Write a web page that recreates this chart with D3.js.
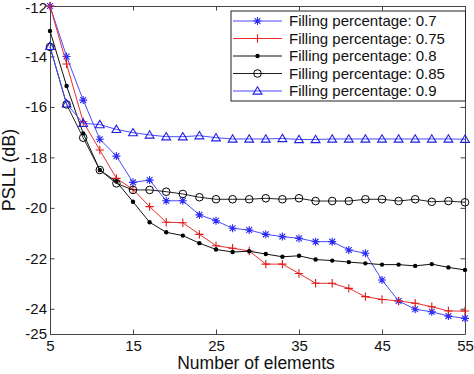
<!DOCTYPE html>
<html>
<head>
<meta charset="utf-8">
<script src="https://cdn.jsdelivr.net/npm/d3@7"></script>
<style>
  html, body { margin: 0; padding: 0; background: #fff; }
  svg { display: block; font-family: "Liberation Sans", Arial, sans-serif; }
</style>
</head>
<body>
<svg id="chart" width="474" height="374"></svg>
<script>
// ---- data ----
const elements = [5,7,9,11,13,15,17,19,21,23,25,27,29,31,33,35,37,39,41,43,45,47,49,51,53,55];
const fp070 = [-12.0,-14.0,-15.73,-17.28,-17.95,-18.99,-18.90,-19.72,-19.72,-20.28,-20.51,-20.81,-20.88,-21.05,-21.14,-21.21,-21.34,-21.34,-21.67,-21.80,-22.86,-23.69,-24.02,-24.12,-24.29,-24.38];
const fp075 = [-12.0,-14.3,-16.59,-17.71,-18.83,-19.27,-19.95,-20.57,-20.59,-21.05,-21.5,-21.6,-21.71,-22.23,-22.23,-22.6,-22.99,-22.99,-23.19,-23.52,-23.63,-23.69,-23.78,-23.92,-24.09,-24.09];
const fp080 = [-12.99,-15.17,-17.05,-18.5,-18.96,-19.76,-20.57,-20.97,-21.1,-21.4,-21.65,-21.75,-21.72,-21.83,-21.94,-21.90,-22.05,-22.09,-22.15,-22.2,-22.25,-22.25,-22.3,-22.23,-22.36,-22.46];
const fp085 = [-13.62,-15.9,-17.22,-18.5,-19.03,-19.29,-19.29,-19.36,-19.45,-19.58,-19.66,-19.66,-19.66,-19.62,-19.66,-19.62,-19.73,-19.73,-19.73,-19.66,-19.66,-19.73,-19.66,-19.76,-19.73,-19.78];
const fp090 = [-13.6,-15.88,-16.65,-16.7,-16.89,-17.02,-17.11,-17.18,-17.18,-17.14,-17.22,-17.27,-17.27,-17.27,-17.25,-17.29,-17.29,-17.27,-17.27,-17.27,-17.27,-17.27,-17.27,-17.27,-17.27,-17.28];
const seriesNames = ["Filling percentage: 0.7","Filling percentage: 0.75","Filling percentage: 0.8","Filling percentage: 0.85","Filling percentage: 0.9"];
const xTicks = [5,15,25,35,45,55];
const yTicks = [-12,-14,-16,-18,-20,-22,-24,-25];
const xLabel = "Number of elements";
const yLabel = "PSLL (dB)";

// ---- styles ----
const styles = [
  {values: fp070, color: "#2b2bf5", line: "#4a4aff", marker: "asterisk"},
  {values: fp075, color: "#e01818", line: "#e83030", marker: "plus"},
  {values: fp080, color: "#000000", line: "#111111", marker: "dot"},
  {values: fp085, color: "#000000", line: "#222222", marker: "circle"},
  {values: fp090, color: "#2020e0", line: "#4a4aff", marker: "triangle"}
];

const svg = d3.select("#chart");
const pLeft = 50, pRight = 465, pTop = 6, pBottom = 334;
const x = d3.scaleLinear().domain([5,55]).range([pLeft,pRight]);
const y = d3.scaleLinear().domain([-25,-12]).range([pBottom,pTop]);

const axisColor = "#444";
function styleAxis(g) {
  g.selectAll("path.domain").attr("stroke", axisColor).attr("stroke-width", 1);
  g.selectAll(".tick line").attr("stroke", axisColor).attr("stroke-width", 1);
  g.selectAll(".tick text").attr("fill", "#111").style("font-size", "15px")
    .style("font-family", '"Liberation Sans", Arial, sans-serif');
}
svg.append("g").attr("transform", `translate(0,${pBottom})`)
  .call(d3.axisBottom(x).tickValues(xTicks).tickSizeInner(-4.5).tickSizeOuter(0).tickPadding(6).tickFormat(d3.format("d")))
  .call(styleAxis);
svg.append("g").attr("transform", `translate(0,${pTop})`)
  .call(d3.axisTop(x).tickValues(xTicks).tickSizeInner(-4.5).tickSizeOuter(0).tickFormat(""))
  .call(styleAxis);
const yAxisG = svg.append("g").attr("transform", `translate(${pLeft},0)`)
  .call(d3.axisLeft(y).tickValues(yTicks).tickSizeInner(-4.5).tickSizeOuter(0).tickPadding(3).tickFormat(d3.format("d")))
  .call(styleAxis);
// keep the top label fully inside the canvas
yAxisG.selectAll(".tick text").filter(d => d === -12).attr("y", 1.5);
svg.append("g").attr("transform", `translate(${pRight},0)`)
  .call(d3.axisRight(y).tickValues(yTicks).tickSizeInner(-4.5).tickSizeOuter(0).tickFormat(""))
  .call(styleAxis);
svg.selectAll(".tick text").text(function(){ return d3.select(this).text().replace("\u2212","-"); });

// marker drawing
function drawMarker(g, type, cx, cy, color) {
  if (type === "asterisk") {
    const s = 4, d = 2.9;
    g.append("path").attr("d", `M${cx-s},${cy}L${cx+s},${cy}M${cx},${cy-s}L${cx},${cy+s}M${cx-d},${cy-d}L${cx+d},${cy+d}M${cx-d},${cy+d}L${cx+d},${cy-d}`)
      .attr("stroke", color).attr("stroke-width", 1.1).attr("fill", "none");
  } else if (type === "plus") {
    const s = 4.2;
    g.append("path").attr("d", `M${cx-s},${cy}L${cx+s},${cy}M${cx},${cy-s}L${cx},${cy+s}`)
      .attr("stroke", color).attr("stroke-width", 1.1).attr("fill", "none");
  } else if (type === "dot") {
    g.append("circle").attr("cx", cx).attr("cy", cy).attr("r", 2.2).attr("fill", color);
  } else if (type === "circle") {
    g.append("circle").attr("cx", cx).attr("cy", cy).attr("r", 3.8)
      .attr("fill", "none").attr("stroke", color).attr("stroke-width", 1);
  } else if (type === "triangle") {
    const w = 4.4, h = 4.2;
    g.append("path").attr("d", `M${cx},${cy-h}L${cx+w},${cy+h*0.75}L${cx-w},${cy+h*0.75}Z`)
      .attr("fill", "none").attr("stroke", color).attr("stroke-width", 1.1);
  }
}

const line = d3.line().x(d => x(d[0])).y(d => y(d[1]));
const plot = svg.append("g");
styles.forEach(s => {
  const pts = elements.map((e, i) => [e, s.values[i]]);
  const g = plot.append("g");
  g.append("path").datum(pts).attr("d", line)
    .attr("fill", "none").attr("stroke", s.line).attr("stroke-width", 1);
  pts.forEach(p => drawMarker(g, s.marker, x(p[0]), y(p[1]), s.color));
});

// legend
const lg = svg.append("g");
const lgLeft = 231, lgTop = 11, lgRight = 465.5, lgBottom = 101;
lg.append("rect").attr("x", lgLeft).attr("y", lgTop).attr("width", lgRight - lgLeft).attr("height", lgBottom - lgTop)
  .attr("fill", "#fff").attr("stroke", "#222").attr("stroke-width", 1);
const rowY = d3.scalePoint().domain(seriesNames).range([21, 91]);
seriesNames.forEach((name, i) => {
  const yy = rowY(name);
  lg.append("line").attr("x1", 233).attr("x2", 282).attr("y1", yy).attr("y2", yy)
    .attr("stroke", styles[i].line).attr("stroke-width", 1);
  drawMarker(lg, styles[i].marker, 257.5, yy, styles[i].color);
  lg.append("text").attr("x", 289).attr("y", yy).attr("dy", "0.36em")
    .style("font-size", "15px").attr("fill", "#111").text(name);
});

// axis titles
svg.append("text").attr("x", 256).attr("y", 369).attr("text-anchor", "middle")
  .style("font-size", "17.5px").attr("fill", "#111").text(xLabel);
svg.append("text").attr("transform", "translate(15,170) rotate(-90)").attr("text-anchor", "middle")
  .style("font-size", "18px").attr("fill", "#111").text(yLabel);
</script>
</body>
</html>
